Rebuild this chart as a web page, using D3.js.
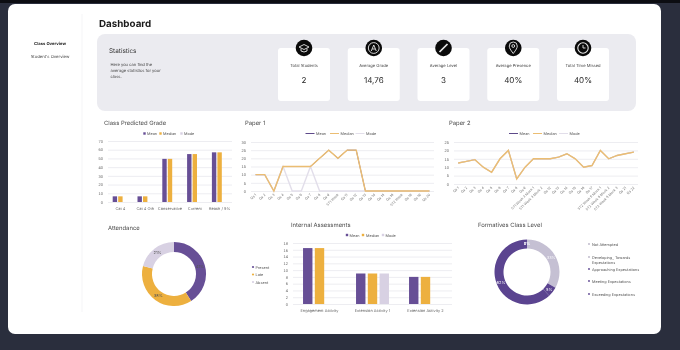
<!DOCTYPE html>
<html>
<head>
<meta charset="utf-8">
<script src="https://cdnjs.cloudflare.com/ajax/libs/d3/7.8.5/d3.min.js"></script>
<style>
  html, body { margin: 0; padding: 0; background: #2a2e3d; }
  svg { display: block; font-family: Inter, "Liberation Sans", sans-serif; text-rendering: geometricPrecision; filter: blur(0.4px); }
  .grid line { stroke: #e9e9ed; stroke-width: 0.8; }
  .grid path { display: none; }
  .tick-text text { fill: #666; font-size: 4px; }
  .chart-title { fill: #4a4a4a; font-size: 5.9px; }
  .legend-text { fill: #555; font-size: 3.8px; }
</style>
</head>
<body>
<div id="chart"></div>
<script>
var nav_items = ["Class Overview", "Student's Overview"];
var stat_labels = ["Total Students", "Average Grade", "Average Level", "Average Presence", "Total Time Missed"];
var stat_values = ["2", "14,76", "3", "40%", "40%"];

var series_names = ["Mean", "Median", "Mode"];

var grade_categories = ["Cat 4", "Cat 4 Oth", "Conservative", "Current", "Reach / 9%"];
var grade_mean = [6.5, 6.5, 49.5, 55, 57];
var grade_median = [6.5, 6.5, 49.5, 55, 57];
var grade_mode = [0, 0, 0, 0, 0];
var grade_ticks = [0, 10, 20, 30, 40, 50, 60, 70];

var paper1_labels = ["Qs 1", "Qs 2", "Qs 3", "Qs 4", "Qs 5", "Qs 6", "Qs 7", "Qs 8", "Qs 9", "ST1 Week", "Qs 11", "Qs 12", "Qs 13", "Qs 14", "Qs 15", "Qs 16", "ST2 Week", "Qs 18", "Qs 19", "Qs 20"];
var paper1_mean = [10, 10, 0, 15, 15, 15, 15, 20, 25, 20, 25, 25, 0, 0, 0, 0, 0, 0, 0, 0];
var paper1_median = [10, 10, 0, 15, 15, 15, 15, 20, 25, 20, 25, 25, 0, 0, 0, 0, 0, 0, 0, 0];
var paper1_mode = [10, 10, 0, 15, 0, 0, 15, 0, 0, 0, 0, 0, 0, 0, 0, 0, 0, 0, 0, 0];
var paper1_ticks = [0, 5, 10, 15, 20, 25, 30];

var paper2_labels = ["Qs 1", "Qs 2", "Qs 3", "Qs 4", "Qs 5", "Qs 6", "Qs 7", "Qs 8", "Qs 9", "ST1 Week 3 Mock 1", "ST1 Week 3 Mock 2", "Qs 12", "Qs 13", "Qs 14", "Qs 15", "Qs 16", "Qs 17", "ST2 Week 5 Mock 1", "ST2 Week 5 Mock 2", "ST2 Week 5 Mock 3", "Qs 21", "Qs 22"];
var paper2_mean = [12.5, 13.5, 14.5, 10, 7, 15, 20, 3, 10, 15, 15, 15, 16, 18, 15, 10, 11, 20, 15, 17, 18, 19];
var paper2_median = [12.5, 13.5, 14.5, 10, 7, 15, 20, 3, 10, 15, 15, 15, 16, 18, 15, 10, 11, 20, 15, 17, 18, 19];
var paper2_mode = [12.5, 13.5, 14.5, 10, 7, 15, 20, 3, 10, 15, 15, 15, 16, 18, 15, 10, 11, 20, 15, 17, 18, 19];
var paper2_ticks = [0, 5, 10, 15, 20, 25];

var attendance_labels = ["Present", "Late", "Absent"];
var attendance_values = [41, 38, 21];

var internal_categories = ["Engagement Activity", "Extension Activity 1", "Extension Activity 2"];
var internal_mean = [16.5, 9, 8];
var internal_median = [16.5, 9, 8];
var internal_mode = [0, 9, 0];
var internal_ticks = [0, 2, 4, 6, 8, 10, 12, 14, 16, 18];

var formative_labels = ["Not Attempted", "Developing_ Towards", "Approaching Expectations", "Meeting Expectations", "Exceeding Expectations"];
var formative_values = [0, 33, 5, 62, 0];

var purple = "#674f96", orange = "#edb03f", pale = "#d8d1e3";
var line_colors = ["#5e4a8a", "#ebbd72", "#e2deea"];
var bar_colors = [purple, orange, pale];

var svg = d3.select("#chart").append("svg").attr("width", 680).attr("height", 350);

// Page frame
svg.append("rect").attr("width", 680).attr("height", 350).attr("fill", "#2a2e3d");
svg.append("rect").attr("width", 680).attr("height", 3).attr("fill", "#0c0d12");
svg.append("rect").attr("x", 8).attr("y", 4).attr("width", 653).attr("height", 330).attr("rx", 7).attr("fill", "#fff");
svg.append("line").attr("x1", 82).attr("x2", 82).attr("y1", 14).attr("y2", 312).attr("stroke", "#f3f3f5").attr("stroke-width", 0.8);

// Side nav
svg.selectAll(".nav").data(nav_items).enter().append("text")
  .attr("x", 50)
  .attr("y", (d, i) => 44.5 + i * 13)
  .attr("text-anchor", "middle")
  .attr("font-size", 4.2)
  .attr("font-weight", (d, i) => (i === 0 ? 700 : 400))
  .attr("fill", (d, i) => (i === 0 ? "#222" : "#444"))
  .text((d) => d);

svg.append("text").attr("x", 99).attr("y", 27).attr("font-size", 9.8).attr("font-weight", 700).attr("fill", "#1a1a1a").text("Dashboard");

// Statistics panel
svg.append("rect").attr("x", 97).attr("y", 34).attr("width", 539).attr("height", 77).attr("rx", 8).attr("fill", "#ebebf0");
svg.append("text").attr("x", 109).attr("y", 53).attr("font-size", 6.4).attr("fill", "#333").text("Statistics");
["Here you can find the", "average statistics for your", "class."].forEach(function (t, i) {
  svg.append("text").attr("x", 110.5).attr("y", 66 + i * 6).attr("font-size", 4.1).attr("fill", "#444").text(t);
});

var card_x = d3.scaleLinear().domain([0, 4]).range([278, 557]);

function drawIcon(g, i) {
  g.append("circle").attr("r", 8.3).attr("fill", "#0a0a0a");
  var w = g.append("g").attr("fill", "none").attr("stroke", "#e8e8e8").attr("stroke-width", 0.9);
  if (i === 0) {
    w.append("path").attr("d", "M-5,-1 L0,-3.5 L5,-1 L0,1.5 Z M-3,0.5 V3 Q0,5 3,3 V0.5");
  } else if (i === 1) {
    w.append("circle").attr("r", 5.4);
    w.append("path").attr("d", "M-2.5,3 L0,-3 L2.5,3 M-1.5,1 H1.5");
  } else if (i === 2) {
    w.append("path").attr("d", "M-4,4 L4,-4").attr("stroke-width", 1.7);
  } else if (i === 3) {
    w.append("path").attr("d", "M0,5.5 C-3,1.5 -4,0 -4,-2 A4,4 0 0 1 4,-2 C4,0 3,1.5 0,5.5 Z");
    w.append("circle").attr("cy", -2).attr("r", 1.4);
  } else {
    w.append("circle").attr("r", 5.2).attr("stroke-width", 1.1);
    w.append("path").attr("d", "M0,-3 V0 H2.5");
  }
}

stat_labels.forEach(function (label, i) {
  var x = card_x(i);
  svg.append("rect").attr("x", x).attr("y", 48).attr("width", 52).attr("height", 53).attr("rx", 3).attr("fill", "#fff");
  drawIcon(svg.append("g").attr("transform", "translate(" + (x + 26) + ",48)"), i);
  svg.append("text").attr("x", x + 26).attr("y", 67).attr("text-anchor", "middle").attr("font-size", 4.1).attr("fill", "#444").text(label);
  svg.append("text").attr("x", x + 26).attr("y", 82.5).attr("text-anchor", "middle").attr("font-size", 8).attr("fill", "#222").text(stat_values[i]);
});

function title(text, x, y) {
  svg.append("text").attr("class", "chart-title").attr("x", x).attr("y", y).text(text);
}

function yAxis(ticks, left, right, top, bottom) {
  var y = d3.scaleLinear().domain([0, d3.max(ticks)]).range([bottom, top]);
  var axis = svg.append("g")
    .attr("class", "grid tick-text")
    .attr("transform", "translate(" + left + ",0)")
    .call(d3.axisLeft(y).tickValues(ticks).tickSize(-(right - left)).tickPadding(5));
  axis.selectAll("text").attr("font-family", "inherit");
  return y;
}

function barChart(cats, series, ticks, left, right, top, bottom) {
  var y = yAxis(ticks, left, right, top, bottom);
  var x0 = d3.scaleBand().domain(cats).range([left, right]).paddingInner(0.29).paddingOuter(0.145);
  var x1 = d3.scaleBand().domain(series_names).range([0, x0.bandwidth()]).padding(0.2);
  series.forEach(function (values, s) {
    svg.selectAll(".none").data(values).enter().append("rect")
      .attr("x", (d, i) => x0(cats[i]) + x1(series_names[s]))
      .attr("y", (d) => y(d))
      .attr("width", x1.bandwidth())
      .attr("height", (d) => y(0) - y(d))
      .attr("fill", bar_colors[s]);
  });
  svg.selectAll(".none").data(cats).enter().append("text")
    .attr("x", (d) => x0(d) + x0.bandwidth() / 2)
    .attr("y", bottom + 7.5)
    .attr("text-anchor", "middle")
    .attr("font-size", 3.9)
    .attr("fill", "#666")
    .text((d) => d);
}

function lineChart(labels, series, ticks, left, right, top, bottom) {
  var y = yAxis(ticks, left, right, top, bottom);
  var x = d3.scalePoint().domain(d3.range(labels.length)).range([left, right]).padding(0.5);
  var line = d3.line().x((d, i) => x(i)).y((d) => y(d));
  // median goes last, it sits on top in the original
  [0, 2, 1].forEach(function (s) {
    svg.append("path").datum(series[s])
      .attr("d", line)
      .attr("fill", "none")
      .attr("stroke", line_colors[s])
      .attr("stroke-width", s === 0 ? 0.8 : 1.4);
  });
  svg.selectAll(".none").data(labels).enter().append("text")
    .attr("transform", (d, i) => "translate(" + (x(i) + 1) + "," + (bottom + 4) + ") rotate(-45)")
    .attr("text-anchor", "end")
    .attr("font-size", 3.4)
    .attr("fill", "#777")
    .text((d) => d);
}

function barLegend(y, marks, texts) {
  series_names.forEach(function (name, i) {
    svg.append("rect").attr("x", marks[i] - 1.2).attr("y", y - 1.2).attr("width", 2.4).attr("height", 2.4).attr("fill", bar_colors[i]);
    svg.append("text").attr("class", "legend-text").attr("x", texts[i]).attr("y", y + 1.5).text(name);
  });
}

function lineLegend(y, marks) {
  series_names.forEach(function (name, i) {
    svg.append("line").attr("x1", marks[i]).attr("x2", marks[i] + 9).attr("y1", y).attr("y2", y).attr("stroke", line_colors[i]).attr("stroke-width", 1);
    svg.append("text").attr("class", "legend-text").attr("x", marks[i] + 10.5).attr("y", y + 1.5).text(name);
  });
}

function donut(values, colors, labelColor, cx, cy, outer, inner, labelSize) {
  var pie = d3.pie().sort(null).value((d) => d)(values);
  var arc = d3.arc().innerRadius(inner).outerRadius(outer);
  var g = svg.append("g").attr("transform", "translate(" + cx + "," + cy + ")");
  g.selectAll("path").data(pie).enter().append("path").attr("d", arc).attr("fill", (d, i) => colors[i]);
  g.selectAll("text").data(pie).enter().append("text")
    .attr("transform", (d) => "translate(" + arc.centroid(d) + ")")
    .attr("text-anchor", "middle")
    .attr("dy", "0.35em")
    .attr("font-size", labelSize)
    .attr("fill", labelColor)
    .text((d) => d.data + "%");
}

// Class Predicted Grade
title("Class Predicted Grade", 104, 124.5);
barChart(grade_categories, [grade_mean, grade_median, grade_mode], grade_ticks, 108, 232, 141, 202);
barLegend(133.5, [144.5, 160.5, 181.5], [147, 163, 184]);

// Paper 1
title("Paper 1", 245, 124.5);
lineChart(paper1_labels, [paper1_mean, paper1_median, paper1_mode], paper1_ticks, 251, 434, 142, 191);
lineLegend(133.5, [305.5, 330, 355.5]);

// Paper 2
title("Paper 2", 449, 124.5);
lineChart(paper2_labels, [paper2_mean, paper2_median, paper2_mode], paper2_ticks, 454, 638, 142, 184);
lineLegend(133.5, [509, 533, 559]);

// Attendance
title("Attendance", 108, 230);
donut(attendance_values, [purple, orange, pale], "#555", 174, 274, 32, 22, 4);
attendance_labels.forEach(function (name, i) {
  var y = 267 + i * 7.5;
  svg.append("circle").attr("cx", 253).attr("cy", y).attr("r", 1.1).attr("fill", bar_colors[i]);
  svg.append("text").attr("class", "legend-text").attr("x", 255.5).attr("y", y + 1.5).text(name);
});

// Internal Assessments
title("Internal Assessments", 291, 227);
barChart(internal_categories, [internal_mean, internal_median, internal_mode], internal_ticks, 293, 452, 243, 304);
barLegend(235, [347, 363, 383], [349.5, 366, 385.5]);

// Formatives Class Level
title("Formatives Class Level", 478, 227);
donut(formative_values, ["#d8d1e3", "#c5c0d3", "#5b4490", "#5b4490", "#5b4490"], "#f4f2f8", 527, 272, 32.5, 23.5, 4);
var formative_y = [244, 257, 269, 281, 294];
formative_labels.forEach(function (name, i) {
  svg.append("circle").attr("cx", 589).attr("cy", formative_y[i]).attr("r", 0.9).attr("fill", i < 2 ? "#b9b4c6" : "#5b4490");
  svg.append("text").attr("class", "legend-text").attr("x", 592).attr("y", formative_y[i] + 1.5).text(name);
});
svg.append("text").attr("class", "legend-text").attr("x", 592).attr("y", 263.5).text("Expectations");
</script>
</body>
</html>
